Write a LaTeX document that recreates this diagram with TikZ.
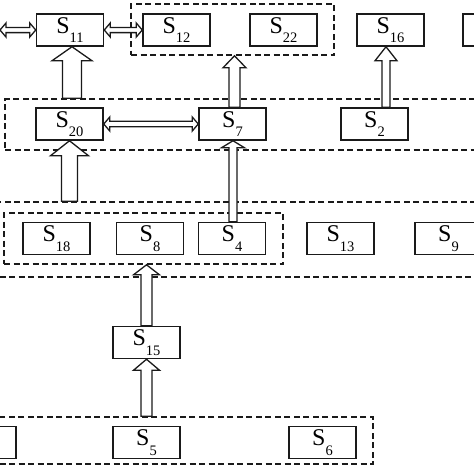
\documentclass[tikz,border=0pt]{standalone}
\usepackage{fontspec}
\setmainfont{Liberation Serif}
\usetikzlibrary{calc}
\definecolor{ink}{HTML}{1A1A1A}
\newcommand{\Slab}[1]{S\raisebox{-9.5pt}{\fontsize{14.5}{14.5}\selectfont #1}}
\pgfkeys{/tikz/arrsw/.store in=\arrsw, /tikz/arrhw/.store in=\arrhw, /tikz/arrhl/.store in=\arrhl}
\tikzset{
  box/.style={draw=ink, line width=1.5pt, minimum width=67pt, minimum height=32pt, inner sep=0pt, font=\fontsize{24}{24}\selectfont},
  grp/.style={draw=ink, line width=1.6pt, dash pattern=on 6pt off 3.5pt, inner sep=0pt},
  blkup/.style={draw=ink, fill=white, line width=1.3pt, line join=miter,
    to path={let \p1=(\tikztostart), \p2=(\tikztotarget) in
      (\x1-\arrsw,\y1) -- (\x1-\arrsw,\y2-\arrhl) -- (\x1-\arrhw,\y2-\arrhl) -- (\x1,\y2)
      -- (\x1+\arrhw,\y2-\arrhl) -- (\x1+\arrsw,\y2-\arrhl) -- (\x1+\arrsw,\y1) -- cycle}},
  blkdbl/.style={draw=ink, fill=white, line width=1.3pt, line join=miter,
    to path={let \p1=(\tikztostart), \p2=(\tikztotarget) in
      (\x1,\y1) -- (\x1+\arrhl,\y1+\arrhw) -- (\x1+\arrhl,\y1+\arrsw) -- (\x2-\arrhl,\y1+\arrsw)
      -- (\x2-\arrhl,\y1+\arrhw) -- (\x2,\y1) -- (\x2-\arrhl,\y1-\arrhw) -- (\x2-\arrhl,\y1-\arrsw)
      -- (\x1+\arrhl,\y1-\arrsw) -- (\x1+\arrhl,\y1-\arrhw) -- cycle}}
}
\begin{document}
\begin{tikzpicture}[x=1pt, y=-1pt]
\useasboundingbox (0,0) rectangle (474,474);
\clip (0,0) rectangle (474,474);
% dashed groups
\node[grp, minimum width=203pt, minimum height=51pt] (D1) at (232.5,29.5) {};
\node[grp, minimum width=485pt, minimum height=51pt] (D2) at (247.5,124.5) {};
\node[grp, minimum width=500pt, minimum height=75pt] (D3) at (240,239.5) {};
\node[grp, minimum width=279pt, minimum height=51pt] (D4) at (143.5,238.5) {};
\node[grp, minimum width=383pt, minimum height=47pt] (D5) at (181.5,440.5) {};
% boxes
\node[box] (S11) at (70,30) {\Slab{11}};
\node[box] (S12) at (176.5,30) {\Slab{12}};
\node[box] (S22) at (283.5,30) {\Slab{22}};
\node[box] (S16) at (390.5,30) {\Slab{16}};
\node[box] (R1) at (496.5,30) {};
\node[box] (S20) at (69.5,124) {\Slab{20}};
\node[box] (S7) at (232.5,124) {\Slab{7}};
\node[box] (S2) at (374.5,124) {\Slab{2}};
\node[box] (S18) at (56.5,238.5) {\Slab{18}};
\node[box] (S8) at (150,238.5) {\Slab{8}};
\node[box] (S4) at (232,238.5) {\Slab{4}};
\node[box] (S13) at (340.5,238.5) {\Slab{13}};
\node[box] (S9) at (448.5,238.5) {\Slab{9}};
\node[box] (S15) at (146.5,342.5) {\Slab{15}};
\node[box] (L1) at (-17.5,442.5) {};
\node[box] (S5) at (146.5,442.5) {\Slab{5}};
\node[box] (S6) at (322.5,442.5) {\Slab{6}};
\coordinate (lend) at (0,30);
% double arrows
\draw[blkdbl, arrsw=2.6pt, arrhw=7pt, arrhl=6pt] (lend) to (S11.west);
\draw[blkdbl, arrsw=2.6pt, arrhw=7pt, arrhl=6pt] (S11.east) to (S12.west);
\draw[blkdbl, arrsw=2.7pt, arrhw=7pt, arrhl=6pt] (S20.east) to (S7.west);
% block arrows
\draw[blkup, arrsw=9.5pt, arrhw=20pt, arrhl=14pt] ([xshift=2.5pt]S20.north |- D2.north) to (S11.south);
\draw[blkup, arrsw=8pt, arrhw=19pt, arrhl=15pt] (S20.south |- D3.north) to (S20.south);
\draw[blkup, arrsw=5.5pt, arrhw=11.5pt, arrhl=12pt] ([xshift=2pt]S7.north) to ([xshift=2pt]S7.north |- D1.south);
\draw[blkup, arrsw=4pt, arrhw=11pt, arrhl=14pt] ([xshift=11.5pt]S2.north) to (S16.south);
\draw[blkup, arrsw=4pt, arrhw=11.5pt, arrhl=7pt] ([xshift=1pt]S4.north) to (S7.south);
\draw[blkup, arrsw=5.5pt, arrhw=13pt, arrhl=10pt] (S15.north) to (S15.north |- D4.south);
\draw[blkup, arrsw=5.5pt, arrhw=13pt, arrhl=11pt] (S5.north |- D5.north) to (S15.south);
\end{tikzpicture}
\end{document}
